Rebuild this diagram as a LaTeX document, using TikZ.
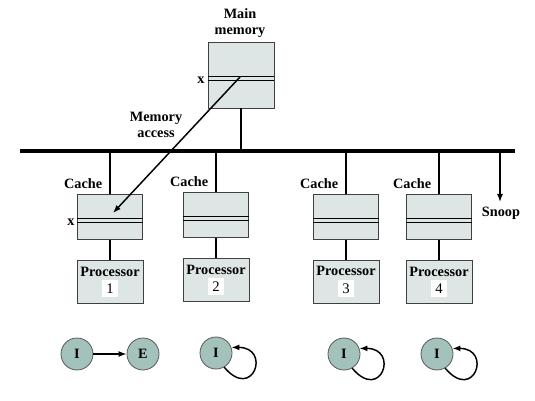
\documentclass[tikz,border=0pt]{standalone}
\usepackage{fontspec}
\setmainfont{Liberation Serif}
\usetikzlibrary{arrows.meta}
\definecolor{boxfill}{HTML}{DDE6E5}
\definecolor{statefill}{HTML}{A3C2BB}
\tikzstyle{lbl}=[font=\fontsize{10.7}{11.5}\selectfont\bfseries, inner sep=0pt, align=center]
\tikzstyle{store}=[draw=black!75, fill=boxfill, line width=0.6pt, minimum width=48.75pt, minimum height=33.75pt, inner sep=0pt]
\tikzstyle{cpu}=[store, minimum width=49.5pt, minimum height=32.25pt, font=\fontsize{10.7}{11.5}\selectfont\bfseries, align=center]
\tikzstyle{state}=[circle, draw=black!65, line width=0.6pt, fill=statefill, minimum size=24pt, inner sep=0pt, font=\fontsize{10.7}{12}\selectfont\bfseries]
\tikzstyle{wire}=[line width=1.1pt]
\tikzstyle{tip}=[-{Latex[length=6pt,width=4.5pt]}]

\begin{document}
\begin{tikzpicture}[x=0.75pt,y=0.75pt]
        \useasboundingbox (0,0) rectangle (535,400);
        % main memory
        \node[store, minimum width=49.5pt, minimum height=49.5pt] (mem) at (241,325) {};
        \draw[line width=0.6pt] ([yshift=-0.75pt]mem.west) -- ([yshift=-0.75pt]mem.east);
        \draw[line width=0.6pt] ([yshift=-3.75pt]mem.west) -- ([yshift=-3.75pt]mem.east);
        \node[lbl] (memlbl) at (240,377) {Main\\memory};
        \node[lbl] (memx) at (201,320) {x};
        % bus
        \coordinate (busL) at (20,249);
        \coordinate (busR) at (515,249);
        \draw[line width=2.6pt] (busL) -- (busR);
        \draw[wire] (mem.south) -- (mem.south |- busL);
        % caches with their processors
        \foreach \n/\x/\y in {1/110/183, 2/216/185, 3/346/183, 4/439/183} {
            \node[store] (c\n) at (\x,\y) {};
            \draw[line width=0.6pt] ([yshift=-1.1pt]c\n.west) -- ([yshift=-1.1pt]c\n.east);
            \draw[line width=0.6pt] ([yshift=-4.1pt]c\n.west) -- ([yshift=-4.1pt]c\n.east);
            \node[lbl, anchor=south] (cl\n) at ([xshift=4.5pt, yshift=3.75pt]c\n.north west) {Cache};
            \draw[wire] (c\n.north) -- (c\n.north |- busL);
            \node[cpu] (p\n) at (\x,\y-65) {Processor\\[1.5pt]\colorbox{white}{\normalfont\fontsize{11}{12}\selectfont\n}};
            \draw[wire] (c\n.south) -- (p\n.north);
        }
        \node[lbl] (cx) at (71,178) {x};
        % memory access
        \coordinate (ma1) at ([xshift=-0.75pt, yshift=-1.5pt]mem.center);
        \coordinate (ma2) at ([xshift=2.25pt, yshift=3pt]c1.center);
        \draw[wire, tip] (ma1) -- (ma2);
        \node[lbl] (malbl) at (156,275) {Memory\\access};
        % snoop
        \coordinate (sn1) at (500,249);
        \coordinate (sn2) at (500,198);
        \draw[wire, tip] (sn1) -- (sn2);
        \node[lbl] (snlbl) at (501,187) {Snoop};
        % states
        \node[state] (s1) at (77,46) {I};
        \node[state] (e1) at (143,46) {E};
        \draw[wire, tip] (s1) -- (e1);
        \foreach \n/\x/\y in {2/216/47, 3/344/46, 4/437/46} {
            \node[state] (s\n) at (\x,\y) {I};
            \draw[wire, tip] (s\n.-60) .. controls +(-50:45) and +(0:40) .. (s\n.20);
        }
\end{tikzpicture}
\end{document}
